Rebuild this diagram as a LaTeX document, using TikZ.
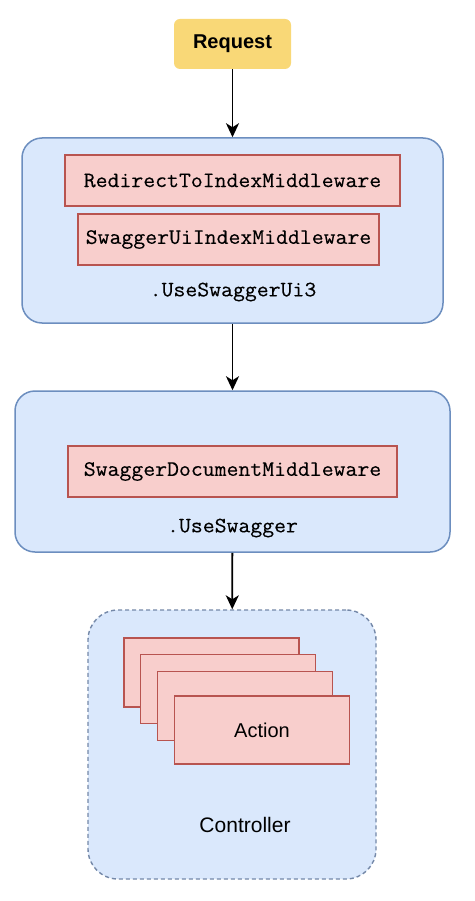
\documentclass[tikz,border=0pt]{standalone}
\usepackage{fontspec}
\setmainfont{Liberation Sans}
\newfontfamily\codefont{Latin Modern Mono}[FakeStretch=1.05, FakeBold=0.3]
\usetikzlibrary{arrows.meta}
\definecolor{reqfill}{HTML}{F9D877}
\definecolor{bluefill}{HTML}{DAE8FC}
\definecolor{bluestroke}{HTML}{6C8EBF}
\definecolor{redfill}{HTML}{F8CECC}
\definecolor{redstroke}{HTML}{B85450}
\definecolor{dashstroke}{HTML}{7488A8}
\tikzset{
  req/.style={fill=reqfill, draw=none, rounded corners=6pt, minimum width=117pt, minimum height=50pt, inner sep=0pt, font=\fontsize{20}{24}\selectfont\bfseries},
  group/.style={fill=bluefill, draw=bluestroke, line width=1.5pt, rounded corners=20pt, inner sep=0pt},
  mw/.style={fill=redfill, draw=redstroke, line width=1.5pt, minimum height=51pt, inner sep=0pt, font=\fontsize{22}{26}\selectfont\codefont},
  lbl/.style={inner sep=0pt, font=\fontsize{22}{26}\selectfont\codefont},
  ctrlbox/.style={fill=bluefill, draw=dashstroke, line width=1.4pt, dash pattern=on 4pt off 3pt, rounded corners=30pt, inner sep=0pt, minimum width=288pt, minimum height=269pt},
  act/.style={fill=redfill, draw=redstroke, line width=1.5pt, minimum width=175pt, minimum height=69pt, inner sep=0pt, font=\fontsize{20}{24}\selectfont},
  conn/.style={draw=black, line width=1.8pt, -{Stealth[length=14pt, width=13pt, inset=4pt]}},
}
\begin{document}
\begin{tikzpicture}[x=1pt,y=-1pt]
\useasboundingbox[fill=white] (0,0) rectangle (474,901);
\node[req] (req) at (232.5,44) {Request};
\node[group, minimum width=421pt, minimum height=185pt] (ui3) at (232.5,230.5) {};
\node[mw, minimum width=335pt] (redir) at (232.5,180.5) {RedirectToIndexMiddleware};
\node[mw, minimum width=301pt] (uiidx) at (228.5,239.5) {SwaggerUiIndexMiddleware};
\node[lbl] (ui3lbl) at (233,292) {.UseSwaggerUi3};
\node[group, minimum width=435pt, minimum height=161pt] (sw) at (232.5,471.5) {};
\node[mw, minimum width=329pt] (doc) at (232.5,471.5) {SwaggerDocumentMiddleware};
\node[lbl] (swlbl) at (232.5,528) {.UseSwagger};
\node[ctrlbox] (ctrl) at (232,744.5) {};
\node[act] (a1) at (211.5,672.5) {};
\node[act] (a2) at (228,689) {};
\node[act] (a3) at (245,706) {};
\node[act, minimum height=68pt] (a4) at (262,730) {Action};
\node[inner sep=0pt, font=\fontsize{21}{25}\selectfont] (ctrllbl) at (245,825) {Controller};
\draw[conn] (req) -- (ui3);
\draw[conn] (ui3) -- (sw);
\draw[conn] (sw) -- (ctrl);
\end{tikzpicture}
\end{document}
